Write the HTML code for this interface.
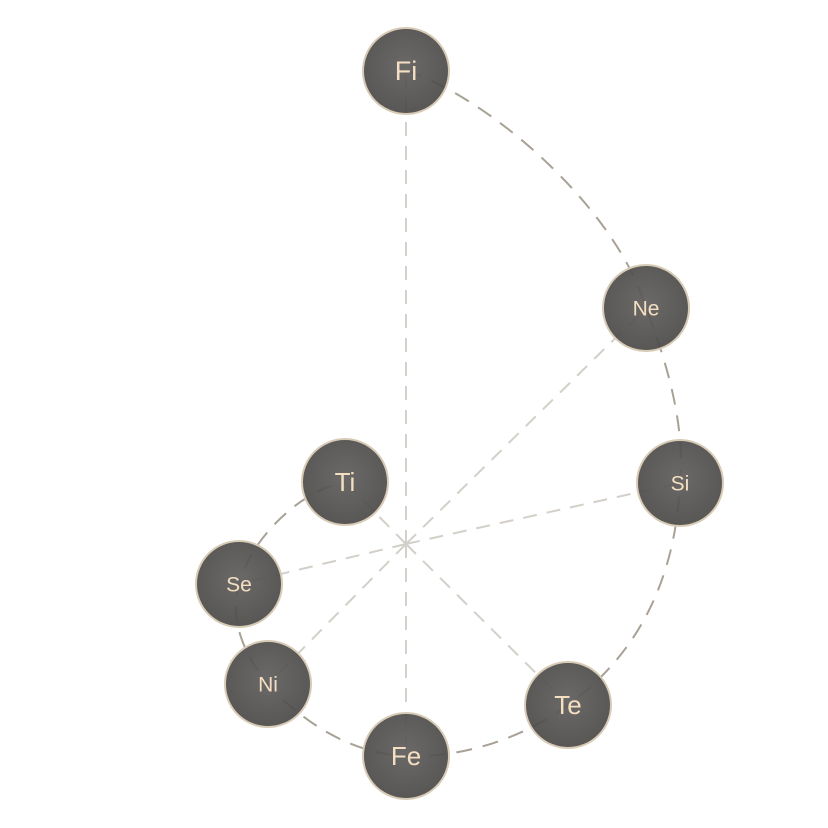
<!DOCTYPE html>
<html><head><meta charset="utf-8"><style>
html,body{margin:0;padding:0;background:#fff;width:828px;height:828px;overflow:hidden}
svg{display:block}
text{font-family:"Liberation Sans",sans-serif;fill:#f5dfc2;text-anchor:middle;dominant-baseline:central}
</style></head><body>
<svg width="828" height="828" viewBox="0 0 828 828">
<defs>
<radialGradient id="g" cx="50%" cy="45%" r="55%">
<stop offset="0" stop-color="#5f5e5c"/><stop offset="1" stop-color="#4b4a48"/>
</radialGradient>
</defs>
<g stroke="#d3cfc9" stroke-width="2" stroke-dasharray="14 10" fill="none">
<line x1="406" y1="544" x2="406" y2="71"/>
<line x1="406" y1="544" x2="646" y2="308"/>
<line x1="406" y1="544" x2="680" y2="483"/>
<line x1="406" y1="544" x2="568" y2="705"/>
<line x1="406" y1="544" x2="406" y2="756"/>
<line x1="406" y1="544" x2="268" y2="684"/>
<line x1="406" y1="544" x2="239" y2="584"/>
<line x1="406" y1="544" x2="345" y2="482"/>
</g>
<path d="M406,71 C485,95 615,205 646,308 C670,370 685,430 680,483 C675,590 630,660 568,705 C520,740 460,758 406,756 C350,754 300,720 268,684 C240,650 230,615 239,584 C250,540 300,490 345,482" fill="none" stroke="#a8a195" stroke-width="2" stroke-dasharray="16 11"/>
<g stroke="#d8cbb6" stroke-width="2" fill="url(#g)" fill-opacity="0.93">
<circle cx="406" cy="71" r="43"/>
<circle cx="646" cy="308" r="43"/>
<circle cx="680" cy="483" r="43"/>
<circle cx="568" cy="705" r="43"/>
<circle cx="406" cy="756" r="43"/>
<circle cx="268" cy="684" r="43"/>
<circle cx="239" cy="584" r="43"/>
<circle cx="345" cy="482" r="43"/>
</g>
<text x="406" y="71" font-size="27">Fi</text>
<text x="646" y="309" font-size="21">Ne</text>
<text x="680" y="484" font-size="21">Si</text>
<text x="568" y="705" font-size="26">Te</text>
<text x="406" y="756" font-size="26">Fe</text>
<text x="268" y="685" font-size="21">Ni</text>
<text x="239" y="585" font-size="21">Se</text>
<text x="345" y="482" font-size="26">Ti</text>
</svg>
</body></html>
